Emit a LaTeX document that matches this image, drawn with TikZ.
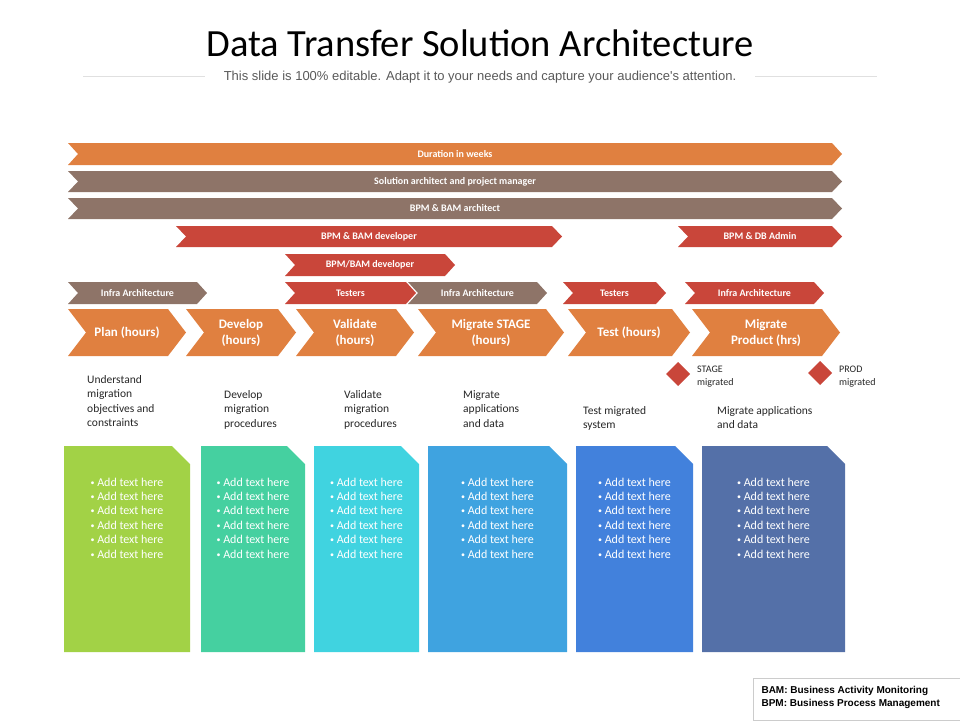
\documentclass[tikz,border=0pt]{standalone}
\usepackage{fontspec}
\setmainfont{Carlito}
\newfontfamily\arialf{Liberation Sans}
\definecolor{cor}{HTML}{E08040}
\definecolor{cbr}{HTML}{8E7468}
\definecolor{crd}{HTML}{C9463A}
\definecolor{cg1}{HTML}{A2D246}
\definecolor{cg2}{HTML}{45D0A0}
\definecolor{cg3}{HTML}{40D3E0}
\definecolor{cg4}{HTML}{3FA3E0}
\definecolor{cg5}{HTML}{4281DC}
\definecolor{cg6}{HTML}{5470A8}
\newcommand{\chev}[9]{%
  \fill[#6] (#1,#3) -- (#2-#5,#3) -- (#2,{(#3+#4)/2}) -- (#2-#5,#4) -- (#1,#4) -- (#1+#5,{(#3+#4)/2}) -- cycle;
  \node[#9] (#8) at ({(#1+#2)/2},{(#3+#4)/2}) {#7};}
\newcommand{\blt}{{\fontsize{8}{8}\selectfont\raisebox{1pt}{\textbullet}}\ }
\newcommand{\pbox}[4]{%
  \fill[#3] (#1,446) -- (#2-18,446) -- (#2,464) -- (#2,652) -- (#1,652) -- cycle;
  \node[listtxt] (#4) at ({(#1+#2)/2},518) {\blt Add text here\\\blt Add text here\\\blt Add text here\\\blt Add text here\\\blt Add text here\\\blt Add text here};}
\begin{document}
\begin{tikzpicture}[x=1pt,y=-1pt,
  bartxt/.style={text=white,font=\bfseries\fontsize{10}{12}\selectfont,align=center},
  bigtxt/.style={text=white,font=\bfseries\fontsize{13}{16}\selectfont,align=center},
  listtxt/.style={text=white,font=\fontsize{12}{14.4}\selectfont,align=left},
  desc/.style={anchor=north west,font=\fontsize{11.5}{14.5}\selectfont,align=left,text=black!85,inner sep=1pt},
  mile/.style={anchor=north west,font=\fontsize{10}{13}\selectfont,align=left,text=black!85,inner sep=1pt}]
\useasboundingbox (0,0) rectangle (960,720);
\node (title) at (480,43) {\fontsize{38.5}{42}\selectfont Data Transfer Solution Architecture};
\node[text=black!65,font=\arialf\fontsize{13}{15}\selectfont] (sub) at (480,77) {This slide is 100\% editable. Adapt it to your needs and capture your audience's attention.};
\draw[black!12] (83,76) -- (205,76) (755,76) -- (877,76);
\chev{68}{842}{143}{165}{10}{cor}{Duration in weeks}{b1}{bartxt}
\chev{68}{842}{171}{192}{10}{cbr}{Solution architect and project manager}{b2}{bartxt}
\chev{68}{842}{198}{219}{10}{cbr}{BPM \& BAM architect}{b3}{bartxt}
\chev{176}{562}{226}{247}{10}{crd}{BPM \& BAM developer}{b4}{bartxt}
\chev{678}{842}{226}{247}{10}{crd}{BPM \& DB Admin}{b5}{bartxt}
\chev{285}{455}{254}{276}{10}{crd}{BPM/BAM developer}{b6}{bartxt}
\chev{68}{207}{282}{304}{10}{cbr}{Infra Architecture}{r1}{bartxt}
\chev{285}{416}{282}{304}{10}{crd}{Testers}{r2}{bartxt}
\chev{408}{547}{282}{304}{10}{cbr}{Infra Architecture}{r3}{bartxt}
\chev{563}{666}{282}{304}{10}{crd}{Testers}{r4}{bartxt}
\chev{685}{824}{282}{304}{10}{crd}{Infra Architecture}{r5}{bartxt}
\chev{68}{186}{309}{356}{18}{cor}{Plan (hours)}{s1}{bigtxt}
\chev{186}{296}{309}{356}{18}{cor}{Develop\\(hours)}{s2}{bigtxt}
\chev{296}{414}{309}{356}{18}{cor}{Validate\\(hours)}{s3}{bigtxt}
\chev{418}{564}{309}{356}{18}{cor}{Migrate STAGE\\(hours)}{s4}{bigtxt}
\chev{568}{690}{309}{356}{18}{cor}{Test (hours)}{s5}{bigtxt}
\chev{692}{840}{309}{356}{18}{cor}{Migrate\\Product (hrs)}{s6}{bigtxt}
\fill[crd] (678,362) -- (690,374) -- (678,386) -- (666,374) -- cycle;
\node[mile] (d1) at (696,365) {STAGE\\migrated};
\fill[crd] (820,361) -- (832,373) -- (820,385) -- (808,373) -- cycle;
\node[mile] (d2) at (838,365) {PROD\\migrated};
\node[desc] (t1) at (86,374) {Understand\\migration\\objectives and\\constraints};
\node[desc] (t2) at (223,389) {Develop\\migration\\procedures};
\node[desc] (t3) at (343,389) {Validate\\migration\\procedures};
\node[desc] (t4) at (462,389) {Migrate\\applications\\and data};
\node[desc] (t5) at (582,405) {Test migrated\\system};
\node[desc] (t6) at (716,405) {Migrate applications\\and data};
\pbox{64}{190}{cg1}{p1}
\pbox{201}{305}{cg2}{p2}
\pbox{314}{419}{cg3}{p3}
\pbox{428}{567}{cg4}{p4}
\pbox{576}{693}{cg5}{p5}
\pbox{702}{845}{cg6}{p6}
\draw[black!20,fill=white] (753,678) rectangle (960,720);
\node[anchor=west,align=left,font=\arialf\bfseries\fontsize{10}{13}\selectfont] (fn) at (758,697) {BAM: Business Activity Monitoring\\BPM: Business Process Management};
\end{tikzpicture}
\end{document}
